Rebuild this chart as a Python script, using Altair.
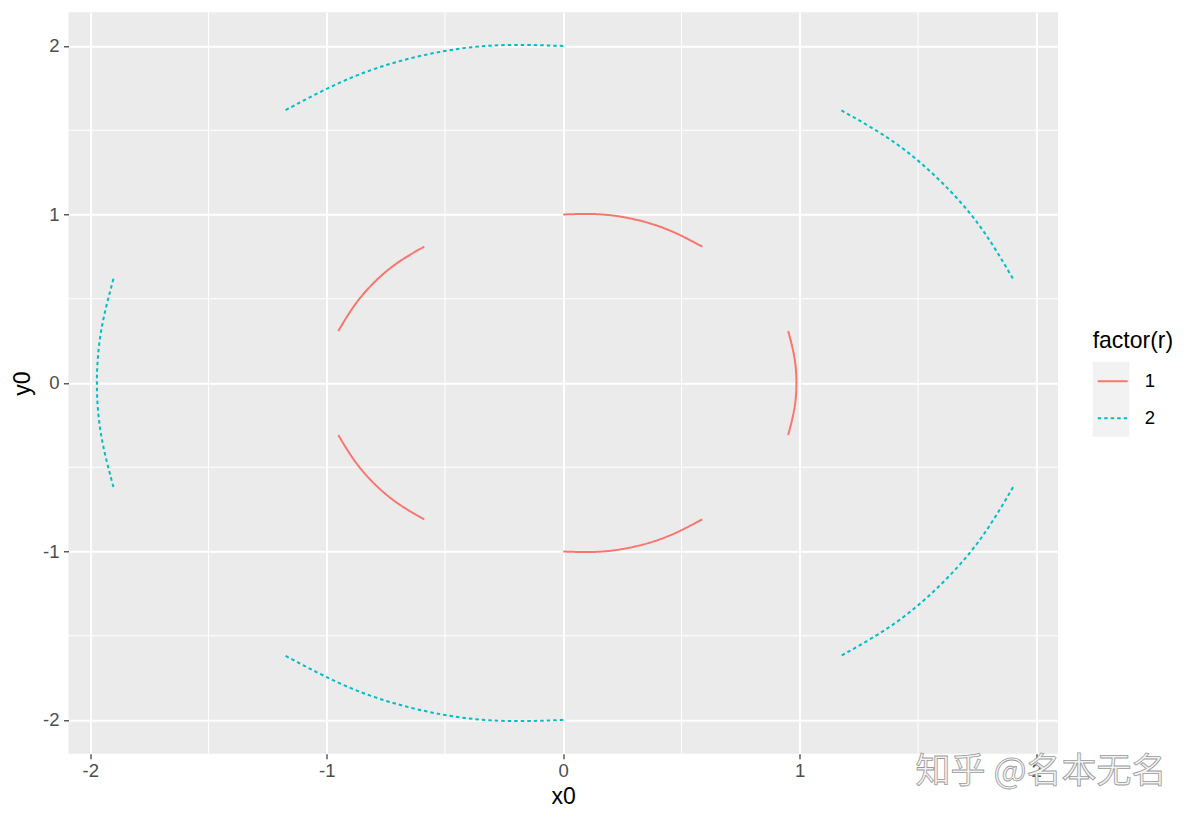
import altair as alt
import pandas as pd

# ---- data ----
arc_r = [1, 1, 1, 1, 1, 2, 2, 2, 2, 2]
arc_x = [
    [0.0, 0.155, 0.305, 0.449, 0.588],
    [0.951, 0.977, 0.986, 0.977, 0.951],
    [0.0, 0.155, 0.305, 0.449, 0.588],
    [-0.588, -0.700, -0.798, -0.881, -0.951],
    [-0.951, -0.881, -0.798, -0.700, -0.588],
    [0.0, -0.310, -0.610, -0.898, -1.176],
    [1.176, 1.400, 1.595, 1.763, 1.902],
    [1.902, 1.763, 1.595, 1.400, 1.176],
    [0.0, -0.310, -0.610, -0.898, -1.176],
    [-1.902, -1.954, -1.972, -1.954, -1.902],
]
arc_y = [
    [1.0, 1.001, 0.970, 0.906, 0.809],
    [0.309, 0.155, 0.0, -0.155, -0.309],
    [-1.0, -1.001, -0.970, -0.906, -0.809],
    [-0.809, -0.714, -0.599, -0.464, -0.309],
    [0.309, 0.464, 0.599, 0.714, 0.809],
    [2.0, 2.002, 1.939, 1.811, 1.618],
    [1.618, 1.428, 1.198, 0.928, 0.618],
    [-0.618, -0.928, -1.198, -1.428, -1.618],
    [-2.0, -2.002, -1.939, -1.811, -1.618],
    [0.618, 0.309, 0.0, -0.309, -0.618],
]
major_ticks = [-2, -1, 0, 1, 2]
minor_x = [-1.5, -0.5, 0.5, 1.5]
minor_y = [-1.5, -0.5, 0.5, 1.5]
levels = ["1", "2"]
colors = ["#F8766D", "#00BFC4"]
watermark = "知乎 @名本无名"

rows = []
for i, (r, xs, ys) in enumerate(zip(arc_r, arc_x, arc_y)):
    for j, (xv, yv) in enumerate(zip(xs, ys)):
        rows.append({"arc": i, "r": str(r), "x0": xv, "y0": yv, "ord": j})
df = pd.DataFrame(rows)

FONT = "Liberation Sans"
xscale = alt.Scale(domain=[-2.092, 2.092], nice=False, zero=False)
yscale = alt.Scale(domain=[-2.2, 2.2], nice=False, zero=False)

common_axis = dict(
    values=major_ticks, labelExpr="''+datum.value", grid=True, gridColor="white",
    gridWidth=2, domain=False, tickColor="#333333", tickSize=5, tickWidth=1.2,
    labelColor="#4D4D4D", labelFontSize=18.5, labelFont=FONT, titleFont=FONT,
    titleFontSize=23, titleColor="black", titleFontWeight="normal",
)
xaxis = alt.Axis(title="x0", labelPadding=3, titlePadding=5, **common_axis)
yaxis = alt.Axis(title="y0", labelPadding=4.5, titlePadding=8, **common_axis)

minor_x_rules = alt.Chart(pd.DataFrame({"x0": minor_x})).mark_rule(
    color="white", strokeWidth=1
).encode(x=alt.X("x0:Q", scale=xscale, axis=xaxis))

minor_y_rules = alt.Chart(pd.DataFrame({"y0": minor_y})).mark_rule(
    color="white", strokeWidth=1
).encode(y=alt.Y("y0:Q", scale=yscale, axis=yaxis))

lines = alt.Chart(df).mark_line(strokeWidth=2, interpolate="natural").encode(
    x=alt.X("x0:Q", scale=xscale, axis=xaxis),
    y=alt.Y("y0:Q", scale=yscale, axis=yaxis),
    detail="arc:N",
    order="ord:Q",
    color=alt.Color("r:N", scale=alt.Scale(domain=levels, range=colors),
                    title="factor(r)"),
    strokeDash=alt.StrokeDash("r:N", scale=alt.Scale(domain=levels, range=[[1, 0], [3.5, 3]]),
                              title="factor(r)"),
)

keybox = alt.Chart(alt.Data(values=[{}])).mark_rect(color="#F2F2F2").encode(
    x=alt.value(1024.2), x2=alt.value(1060.8), y=alt.value(349.4), y2=alt.value(424.4)
)

wm = alt.Chart(alt.Data(values=[{"t": watermark}])).mark_text(
    font="Noto Sans CJK SC", fontSize=35, fill="#F4F4F4", stroke="#9A9A9A",
    strokeWidth=0.8, align="center", baseline="middle"
).encode(text="t:N", x=alt.value(972.5), y=alt.value(760))

chart = alt.layer(minor_x_rules, minor_y_rules, keybox, lines, wm).properties(
    width=989.5, height=741.4,
    padding={"left": 60.5, "top": 4.3, "right": 134, "bottom": 55},
    autosize=alt.AutoSizeParams(type="none"),
).configure_view(fill="#EBEBEB", stroke=None).configure_legend(
    orient="none", legendX=1024.2, legendY=318, padding=0,
    titleFont=FONT, titleFontSize=23, titleFontWeight="normal", titleColor="black",
    titlePadding=12, labelFont=FONT, labelFontSize=18.5, labelColor="black",
    symbolSize=900, symbolStrokeWidth=2, symbolOffset=4, labelOffset=16,
    rowPadding=11, symbolType="stroke",
)

chart.save("out.html", embed_options={"renderer": "svg", "actions": False})
